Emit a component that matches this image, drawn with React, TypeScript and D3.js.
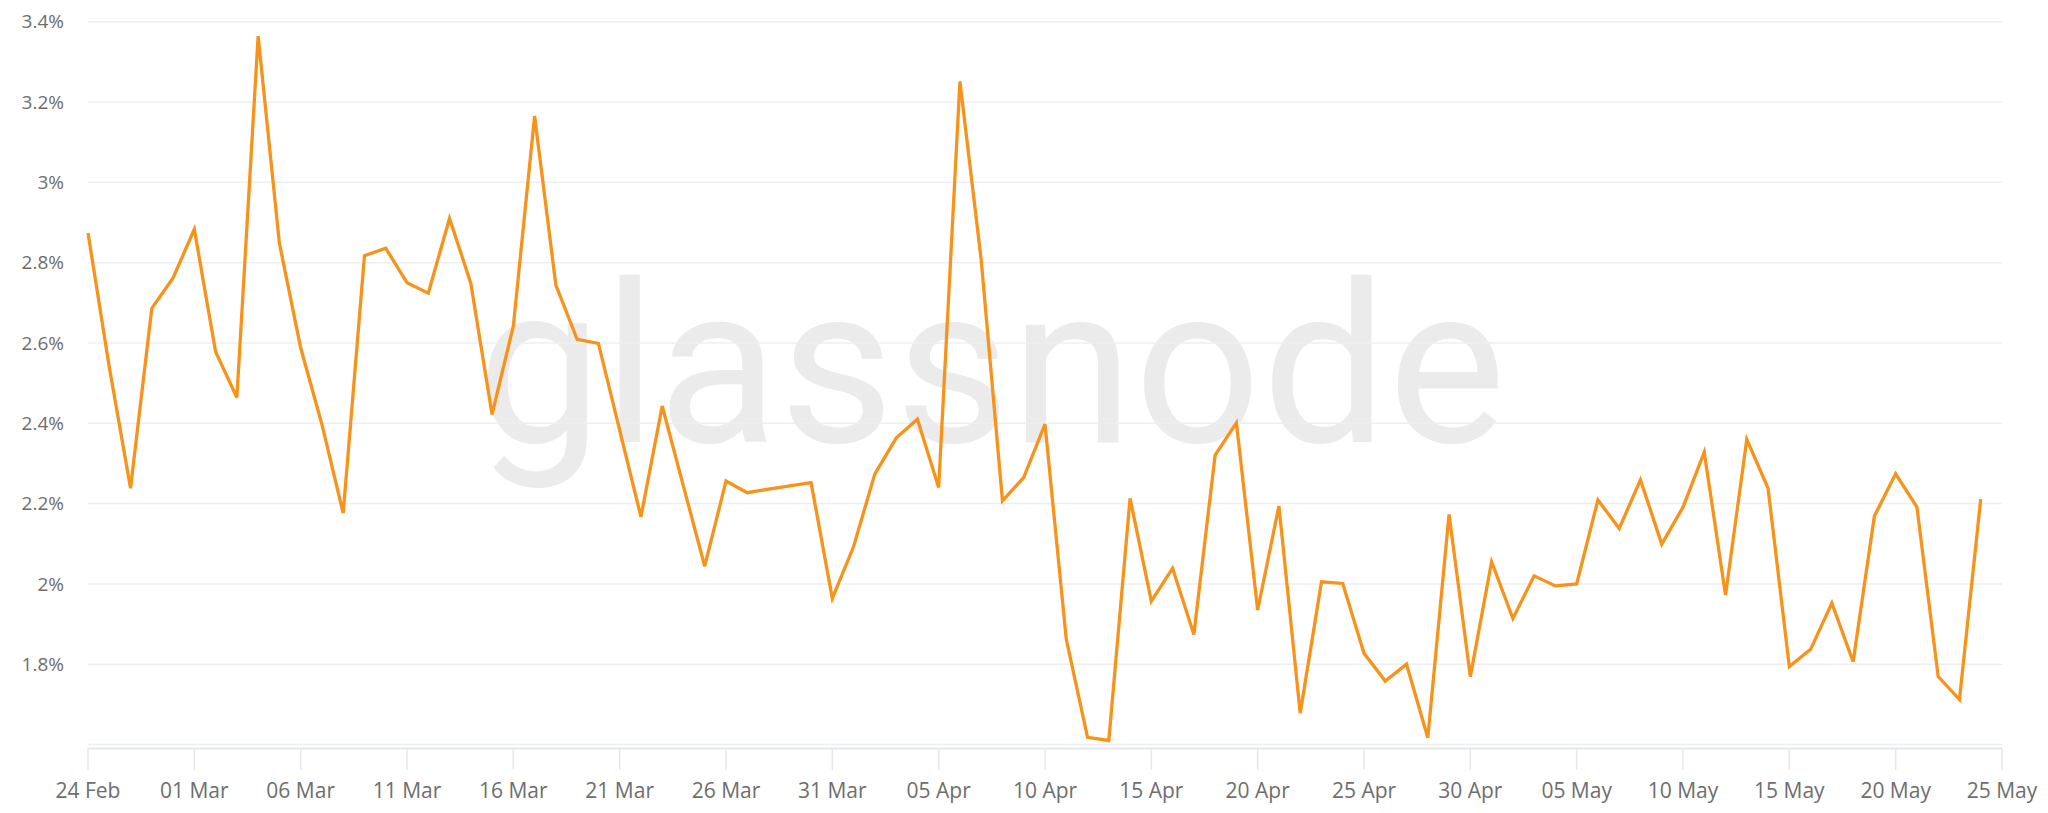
import React from "react";
import * as d3 from "d3";

const START_DATE = "2023-02-24";
const END_DATE = "2023-05-25";

// Daily values (%) from 24 Feb to 24 May
const values: number[] = [
  2.874, 2.54, 2.238, 2.686, 2.762, 2.883, 2.578, 2.464, 3.364, 2.848,
  2.588, 2.397, 2.176, 2.817, 2.836, 2.75, 2.724, 2.91, 2.749, 2.422,
  2.642, 3.165, 2.744, 2.609, 2.599, 2.383, 2.167, 2.443, 2.243, 2.044,
  2.256, 2.227, 2.236, 2.244, 2.252, 1.964, 2.093, 2.274, 2.363, 2.41,
  2.24, 3.251, 2.807, 2.207, 2.265, 2.398, 1.862, 1.618, 1.61, 2.213,
  1.957, 2.039, 1.874, 2.321, 2.401, 1.935, 2.194, 1.678, 2.005, 2.001,
  1.827, 1.758, 1.8, 1.617, 2.173, 1.769, 2.055, 1.914, 2.02, 1.995,
  2.0, 2.209, 2.138, 2.259, 2.099, 2.191, 2.328, 1.972, 2.36, 2.238,
  1.794, 1.837, 1.952, 1.806, 2.169, 2.274, 2.191, 1.769, 1.712, 2.211,
];

const yGridValues: number[] = [1.6, 1.8, 2.0, 2.2, 2.4, 2.6, 2.8, 3.0, 3.2, 3.4];
const yTickLabels: string[] = ["", "1.8%", "2%", "2.2%", "2.4%", "2.6%", "2.8%", "3%", "3.2%", "3.4%"];
const xTickLabels: string[] = [
  "24 Feb", "01 Mar", "06 Mar", "11 Mar", "16 Mar", "21 Mar", "26 Mar", "31 Mar",
  "05 Apr", "10 Apr", "15 Apr", "20 Apr", "25 Apr", "30 Apr", "05 May", "10 May",
  "15 May", "20 May", "25 May",
];

const W = 2048;
const H = 813;
const LEFT = 88;
const RIGHT = 2002;
const TOP = 21.7;
const GRID_BOTTOM = 744.5;
const AXIS_Y = 748.5;

export default function App() {
  const start = new Date(START_DATE + "T00:00:00Z");
  const end = new Date(END_DATE + "T00:00:00Z");
  const x = d3.scaleUtc().domain([start, end]).range([LEFT, RIGHT]);
  const y = d3.scaleLinear().domain([1.6, 3.4]).range([GRID_BOTTOM, TOP]);

  const data = values.map((v, i) => ({ date: d3.utcDay.offset(start, i), v }));
  const line = d3
    .line<{ date: Date; v: number }>()
    .x((d) => x(d.date))
    .y((d) => y(d.v));

  const tickDates = xTickLabels.map((_, i) => d3.utcDay.offset(start, i * 5));

  return (
    <svg
      width={W}
      height={H}
      style={{ position: "absolute", left: 0, top: 0, background: "#fff" }}
      fontFamily="'Open Sans', sans-serif"
    >
      {/* watermark */}
      <text
        x={992}
        y={442}
        textAnchor="middle"
        fontFamily="Roboto, sans-serif"
        fontWeight={400}
        fontSize={222}
        fill="#ebebeb"
        letterSpacing={1}
      >
        glassnode
      </text>

      {/* grid */}
      {yGridValues.map((g, i) => (
        <g key={i}>
          <line x1={LEFT} x2={RIGHT} y1={y(g)} y2={y(g)} stroke="#eceff2" strokeWidth={1.5} />
          {yTickLabels[i] && (
            <text x={64} y={y(g)} dy="0.35em" textAnchor="end" fontSize={19} fill="#6e6e6e">
              {yTickLabels[i]}
            </text>
          )}
        </g>
      ))}

      {/* x axis */}
      <line x1={LEFT} x2={RIGHT} y1={AXIS_Y} y2={AXIS_Y} stroke="#e4e8ee" strokeWidth={2} />
      {tickDates.map((d, i) => (
        <g key={i}>
          <line x1={x(d)} x2={x(d)} y1={AXIS_Y} y2={770} stroke="#e4e8ee" strokeWidth={1.5} />
          <text x={x(d)} y={798} textAnchor="middle" fontSize={21} fill="#6e6e6e">
            {xTickLabels[i]}
          </text>
        </g>
      ))}

      {/* series */}
      <path d={line(data) || ""} fill="none" stroke="#f7931a" strokeWidth={3.3} strokeLinejoin="miter" />
    </svg>
  );
}
